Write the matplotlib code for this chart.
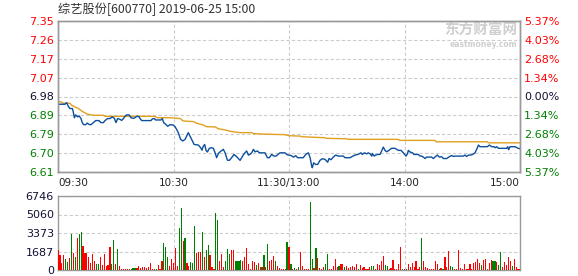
#!/usr/bin/env python3
"""
Intraday time-share chart: 综艺股份 600770, 2019-06-25.
Output: out.png
"""
import numpy as np
import matplotlib
matplotlib.use("Agg")
import matplotlib.pyplot as plt

plt.rcParams.update({
    "font.family": ["DejaVu Sans"],
    "font.size": 7.5,
    "axes.edgecolor": "#999999",
    "axes.linewidth": 1.0,
})
CJK = ["Noto Sans CJK SC", "DejaVu Sans"]

title = "综艺股份[600770] 2019-06-25 15:00"

# price (minutes since 09:30, trading time only)
price_min = [0, 3.6, 4.5, 5.4, 6.2, 7.5, 8.0, 8.5, 9.2, 10.2, 10.9, 11.9, 12.6, 13.3, 14.4,
             15.2, 16.3, 17.1, 18.4, 19.6, 21.3, 22.3, 23.6, 24.4, 25.8, 27.0, 28.2, 29.3,
             30.1, 31.0, 32.2, 33.1, 34.0, 34.8, 35.7, 36.9, 37.9, 39.1, 40.0, 40.9, 42.1,
             42.6, 43.5, 48.3, 49.0, 50.1, 50.7, 53.5, 54.2, 54.9, 55.9, 57.0, 58.2, 59.9,
             60.8, 61.6, 62.5, 63.7, 64.8, 66.0, 66.8, 67.7, 68.6, 69.4, 70.7, 72.9, 74.1,
             74.8, 75.5, 76.2, 76.9, 77.6, 78.6, 79.8, 80.7, 81.6, 82.4, 83.3, 84.2, 85.9,
             86.8, 88.0, 89.0, 90.2, 91.4, 92.8, 94.6, 95.9, 97.1, 98.0, 98.9, 99.7, 100.6,
             101.5, 102.3, 103.6, 104.6, 107.5, 108.8, 109.8, 111.0, 112.2, 113.3, 115.3,
             117.9, 118.8, 119.6, 121.0, 122.3, 123.5, 124.5, 127.4, 128.7, 130.0, 130.9,
             131.8, 132.1, 132.8, 133.9, 134.9, 136.1, 137.3, 138.7, 140.1, 140.8, 141.8,
             143.0, 144.2, 145.6, 148.2, 149.1, 151.7, 152.6, 154.3, 155.7, 156.4, 157.4,
             158.1, 159.1, 160.4, 161.2, 162.1, 163.0, 163.3, 164.3, 165.0, 166.1, 167.3,
             168.1, 169.0, 169.9, 170.7, 171.9, 173.3, 175.1, 176.8, 178.2, 179.4, 180.8,
             181.5, 182.0, 182.9, 184.2, 184.9, 187.2, 188.1, 188.9, 189.8, 190.7, 191.5,
             194.1, 195.0, 195.8, 197.1, 198.1, 199.3, 200.2, 201.9, 203.3, 204.5, 205.4,
             206.2, 210.6, 211.4, 212.3, 213.2, 214.4, 215.4, 216.6, 217.5, 218.4, 219.2,
             223.0, 224.1, 225.3, 226.5, 227.2, 227.9, 228.8, 233.1, 233.6, 234.1, 234.8,
             237.4, 239.1, 240]
price = [6.942, 6.942, 6.950, 6.931, 6.921, 6.921, 6.901, 6.876, 6.890, 6.880, 6.885, 6.873,
         6.852, 6.842, 6.842, 6.850, 6.842, 6.842, 6.852, 6.862, 6.862, 6.852, 6.852, 6.862,
         6.872, 6.872, 6.880, 6.873, 6.852, 6.872, 6.868, 6.863, 6.872, 6.883, 6.890, 6.890,
         6.876, 6.873, 6.876, 6.883, 6.881, 6.872, 6.862, 6.862, 6.870, 6.872, 6.865, 6.865,
         6.872, 6.852, 6.844, 6.834, 6.842, 6.840, 6.832, 6.819, 6.803, 6.770, 6.762, 6.770,
         6.786, 6.803, 6.786, 6.770, 6.745, 6.742, 6.729, 6.717, 6.737, 6.745, 6.716, 6.708,
         6.726, 6.729, 6.726, 6.704, 6.680, 6.701, 6.709, 6.721, 6.704, 6.668, 6.667, 6.680,
         6.696, 6.685, 6.667, 6.688, 6.704, 6.713, 6.693, 6.696, 6.704, 6.721, 6.709, 6.713,
         6.704, 6.704, 6.680, 6.680, 6.696, 6.688, 6.688, 6.704, 6.704, 6.696, 6.693, 6.691,
         6.683, 6.690, 6.680, 6.680, 6.696, 6.704, 6.683, 6.639, 6.631, 6.655, 6.647, 6.647,
         6.667, 6.675, 6.672, 6.658, 6.676, 6.670, 6.683, 6.693, 6.688, 6.688, 6.680, 6.680,
         6.685, 6.693, 6.696, 6.699, 6.704, 6.696, 6.704, 6.699, 6.704, 6.699, 6.688, 6.701,
         6.688, 6.693, 6.696, 6.696, 6.713, 6.732, 6.716, 6.709, 6.716, 6.726, 6.726, 6.716,
         6.716, 6.704, 6.688, 6.699, 6.716, 6.708, 6.704, 6.696, 6.696, 6.688, 6.688, 6.683,
         6.676, 6.683, 6.683, 6.676, 6.683, 6.693, 6.683, 6.685, 6.676, 6.676, 6.685, 6.691,
         6.686, 6.688, 6.688, 6.693, 6.686, 6.693, 6.693, 6.696, 6.704, 6.721, 6.742, 6.734,
         6.734, 6.742, 6.734, 6.734, 6.729, 6.734, 6.726, 6.726, 6.734, 6.719, 6.734, 6.734,
         6.726, 6.724]

# average price line
avg_min = [0, 1.0, 2.8, 6.2, 7.1, 8.8, 10.6, 12.3, 14.0, 15.4, 18.4, 23.6, 24.4, 50.4, 51.3,
           58.2, 63.4, 65.1, 70.3, 72.0, 75.5, 77.2, 81.6, 83.3, 86.8, 90.2, 94.6, 100.6,
           101.5, 109.3, 117.9, 119.7, 125.7, 126.6, 130.9, 138.7, 139.6, 150.0, 150.8,
           176.5, 177.7, 195.8, 196.4, 223.0, 223.6, 240]
avg = [6.950, 6.955, 6.947, 6.947, 6.937, 6.929, 6.921, 6.909, 6.900, 6.893, 6.888, 6.888,
       6.883, 6.883, 6.876, 6.876, 6.872, 6.860, 6.857, 6.849, 6.840, 6.832, 6.831, 6.822,
       6.816, 6.808, 6.803, 6.803, 6.798, 6.795, 6.793, 6.788, 6.786, 6.783, 6.781, 6.778,
       6.775, 6.773, 6.770, 6.770, 6.765, 6.765, 6.758, 6.758, 6.753, 6.753]

# volume per minute (241 bars), up = 1 red, 0 green
volume = [1820, 1370, 670, 1370, 1000, 760, 1120, 3280, 1580, 1160, 2920, 3280, 3470, 2190,
          1580, 1580, 1160, 670, 1460, 820, 550, 550, 1220, 430, 1460, 360, 430, 2070, 550,
          2740, 550, 1880, 360, 120, 120, 120, 120, 120, 120, 150, 150, 180, 360, 180, 240,
          240, 150, 240, 610, 120, 120, 120, 430, 120, 850, 2490, 2130, 1220, 360, 1030, 610,
          2010, 360, 3830, 5650, 2610, 2920, 670, 360, 730, 670, 4010, 1520, 1670, 1670, 3470,
          1160, 1820, 2310, 1340, 240, 120, 5170, 4560, 790, 1460, 240, 850, 1880, 1460, 1820,
          1820, 850, 850, 790, 910, 790, 1220, 2010, 550, 120, 850, 730, 430, 610, 240, 300,
          1340, 240, 2370, 790, 910, 1280, 850, 360, 180, 120, 120, 120, 2550, 2070,
          550, 120, 180, 60, 240, 1670, 360, 120, 120, 60, 6200, 1030, 180, 2010, 1090, 180,
          120, 240, 550, 1460, 60, 60, 360, 1030, 240, 360, 550, 550, 300, 360, 180, 240, 360,
          240, 550, 120, 490, 180, 240, 120, 120, 240, 360, 360, 120, 550, 490, 790, 1280, 430,
          360, 120, 180, 910, 120, 120, 550, 2130, 120, 120, 120, 550, 240, 670, 300, 850, 120,
          240, 2920, 850, 240, 180, 120, 120, 120, 850, 550, 120, 180, 120, 1220, 240, 1760,
          360, 240, 120, 120, 1820, 180, 120, 550, 120, 120, 550, 120, 670, 730, 1030, 670,
          490, 910, 1030, 120, 670, 910, 850, 790, 730, 430, 1640, 300, 730, 430, 1160, 790,
          360, 1030, 240, 120, 120, 3040]
up = [1, 1, 1, 1, 0, 0, 1, 0, 1, 0, 1, 0, 0, 1, 1, 1, 1, 1, 1, 1, 0, 0, 1, 1, 1, 1, 1, 1, 0,
      0, 1, 0, 1, 1, 1, 1, 1, 1, 0, 0, 0, 1, 1, 1, 1, 1, 1, 1, 1, 1, 0, 0, 1, 1, 1, 0, 0, 0,
      1, 1, 1, 1, 1, 0, 0, 1, 0, 1, 1, 0, 0, 0, 1, 1, 1, 0, 1, 0, 0, 1, 1, 1, 0, 0, 1, 1, 1,
      0, 0, 0, 1, 1, 0, 0, 0, 0, 1, 1, 1, 1, 1, 1, 1, 0, 1, 0, 1, 0, 1, 0, 1, 1, 1, 0, 1, 1,
      1, 1, 1, 0, 1,
      0, 1, 0, 1, 0, 1, 1, 1, 1, 1, 0, 0, 1, 0, 1, 1, 1, 1, 0, 0, 1, 1, 1, 1, 1, 0, 1, 1, 0,
      1, 1, 1, 1, 1, 1, 0, 1, 1, 1, 1, 1, 1, 0, 0, 1, 1, 1, 1, 1, 0, 0, 1, 1, 1, 1, 1, 1, 1,
      0, 1, 0, 1, 1, 1, 1, 1, 1, 1, 0, 1, 1, 1, 1, 1, 1, 1, 1, 0, 1, 0, 1, 1, 1, 0, 0, 1, 1,
      1, 1, 1, 1, 1, 1, 1, 1, 1, 1, 1, 1, 0, 1, 1, 0, 1, 1, 0, 0, 1, 0, 0, 1, 1, 1, 1, 1, 0,
      1, 1, 1, 1, 0]

price_labels = ["6.61", "6.70", "6.79", "6.89", "6.98", "7.07", "7.17", "7.26", "7.35"]
pct_labels = ["5.37%", "4.03%", "2.68%", "1.34%", "0.00%", "1.34%", "2.68%", "4.03%", "5.37%"]
vol_labels = ["0", "1687", "3373", "5060", "6746"]
time_labels = ["09:30", "10:30", "11:30/13:00", "14:00", "15:00"]

RED, GREEN, DARK = "#ff0000", "#008000", "#111133"

fig = plt.figure(figsize=(5.78, 2.76), dpi=100)
W, H = 578, 276
ax = fig.add_axes([58 / W, 1 - 172 / H, 462 / W, 151 / H])
axv = fig.add_axes([58 / W, 1 - 270 / H, 462 / W, 74 / H])

grid_kw = dict(color="#cccccc", linestyle=(0, (3, 2)), linewidth=0.8)

# price panel
ax.plot(avg_min, avg, color="#e0a020", linewidth=1.0, zorder=3)
ax.plot(price_min, price, color="#0b4f9e", linewidth=1.0, zorder=4)
ax.set_xlim(0, 240)
ax.set_ylim(6.61, 7.35)
yt = np.linspace(6.61, 7.35, 9)
ax.set_yticks(yt)
ax.set_yticklabels(price_labels)
ax.set_xticks([0, 60, 120, 180, 240])
ax.set_xticklabels(time_labels, color="#222222")
ax.tick_params(length=0, pad=3)
ax.tick_params(axis="y", pad=3, labelsize=8)
ax.tick_params(axis="x", pad=4, labelsize=7.5)
xl = ax.get_xticklabels()
xl[0].set_ha("left")
xl[-1].set_ha("right")
ax.grid(True, **grid_kw)
for i, t in enumerate(ax.get_yticklabels()):
    t.set_color(GREEN if i < 4 else (DARK if i == 4 else RED))

ax2 = ax.twinx()
ax2.set_ylim(6.61, 7.35)
ax2.set_yticks(yt)
ax2.set_yticklabels(pct_labels)
ax2.tick_params(length=0, pad=3, labelsize=8)
for i, t in enumerate(ax2.get_yticklabels()):
    t.set_color(GREEN if i < 4 else (DARK if i == 4 else RED))

# watermark
ax.text(0.995, 0.94, "东方财富网", transform=ax.transAxes, ha="right", va="center",
        fontsize=10.5, fontweight="bold", color="#cfcfcf", family=CJK, zorder=1)
ax.text(0.995, 0.845, "eastmoney.com", transform=ax.transAxes, ha="right", va="center",
        fontsize=5.5, fontweight="bold", color="#cfcfcf", zorder=1)

# volume panel
mins = np.arange(len(volume))
colors = [RED if u else GREEN for u in up]
axv.bar(mins, volume, width=0.6, color=colors, linewidth=0, antialiased=False, zorder=3)
axv.set_xlim(0, 240)
axv.set_ylim(0, 6746)
axv.set_yticks(np.linspace(0, 6746, 5))
axv.set_yticklabels(vol_labels, color=DARK)
axv.set_xticks([60, 120, 180])
axv.set_xticklabels([])
axv.tick_params(length=0, pad=3, labelsize=8)
axv.grid(True, **grid_kw)

fig.text(58 / W, 1 - 9 / H, title, ha="left", va="center", fontsize=8.8,
         color="#333333", family=CJK)

fig.savefig("out.png", dpi=100)
